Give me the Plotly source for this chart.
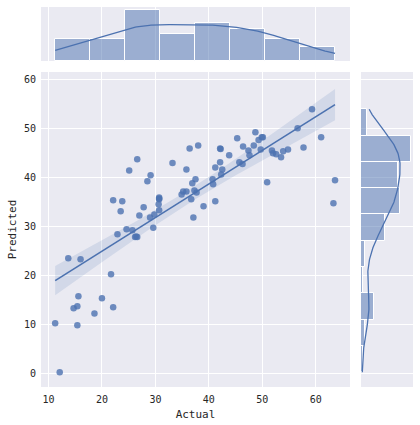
import numpy as np
import plotly.graph_objects as go

actual = [12.1, 11.25, 15.4, 14.7, 15.4, 15.6, 18.6, 20.0, 22.1, 21.7, 13.7, 16.0,
          22.9, 24.6, 25.7, 26.2, 26.6, 29.6, 27.0, 27.8, 23.5, 22.1, 23.8, 29.0,
          29.8, 30.6, 30.7, 30.7, 30.7, 26.6, 25.1, 29.1, 28.5, 33.2, 36.4, 38.0,
          35.8, 37.5, 36.9, 34.9, 35.2, 35.8, 37.3, 37.7, 36.7, 39.0, 37.1, 41.2,
          40.7, 40.8, 41.2, 42.1, 42.1, 42.5, 42.3, 43.8, 45.3, 46.4, 45.7, 46.3,
          47.4, 47.6, 48.4, 48.7, 49.3, 49.9, 50.1, 49.7, 50.9, 51.8, 52.0, 52.6,
          53.5, 53.9, 54.8, 56.6, 57.7, 59.3, 61.0, 63.6, 63.3, 30.7, 26.4, 42.2]
predicted = [0.2, 10.2, 9.8, 13.3, 13.7, 15.7, 12.2, 15.3, 13.5, 20.2, 23.5, 23.3,
             28.4, 29.4, 29.2, 27.8, 27.8, 29.7, 32.2, 33.9, 33.1, 35.3, 35.1, 31.8,
             32.4, 34.5, 33.3, 35.9, 35.5, 43.7, 41.4, 40.4, 39.2, 42.9, 45.9, 46.5,
             41.6, 39.6, 38.8, 36.5, 37.1, 37.1, 37.3, 36.9, 35.5, 34.1, 31.8, 35.1,
             39.6, 38.6, 42.0, 45.9, 43.1, 41.6, 40.6, 44.5, 48.0, 46.3, 43.1, 42.7,
             45.5, 44.5, 46.5, 49.2, 47.6, 48.2, 48.2, 45.7, 39.0, 45.5, 44.9, 44.7,
             44.1, 45.3, 45.7, 50.0, 46.1, 53.9, 48.2, 39.4, 34.7, 35.7, 27.9, 45.8]

x_bins = 8
y_bins = 10
x_ticks = [10, 20, 30, 40, 50, 60]
y_ticks = [0, 10, 20, 30, 40, 50, 60]

x = np.array(actual)
y = np.array(predicted)
n = len(x)
BLUE = "#4C72B0"
FONT = "DejaVu Sans Mono"

# regression with 95% CI
b1, b0 = np.polyfit(x, y, 1)
xg = np.linspace(x.min(), x.max(), 100)
yg = b0 + b1 * xg
resid = y - (b0 + b1 * x)
s = np.sqrt(np.sum(resid ** 2) / (n - 2))
se = s * np.sqrt(1 / n + (xg - x.mean()) ** 2 / np.sum((x - x.mean()) ** 2))
tval = 1.99
lo, hi = yg - tval * se, yg + tval * se


def kde(data, grid):
    bw = np.std(data, ddof=1) * len(data) ** (-1 / 5)
    d = (grid[:, None] - data[None, :]) / bw
    return np.exp(-0.5 * d ** 2).sum(axis=1) / (len(data) * bw * np.sqrt(2 * np.pi))


hx, ex = np.histogram(x, bins=x_bins, range=(x.min(), x.max()))
hy, ey = np.histogram(y, bins=y_bins, range=(y.min(), y.max()))
kx_grid = np.linspace(x.min(), x.max(), 200)
ky_grid = np.linspace(y.min(), y.max(), 200)
kx = kde(x, kx_grid) * n * (ex[1] - ex[0])
ky = kde(y, ky_grid) * n * (ey[1] - ey[0])

fig = go.Figure()
fig.add_trace(go.Scatter(x=np.concatenate([xg, xg[::-1]]), y=np.concatenate([hi, lo[::-1]]),
                         fill="toself", fillcolor="rgba(76,114,176,0.15)", line=dict(width=0),
                         hoverinfo="skip", xaxis="x", yaxis="y"))
fig.add_trace(go.Scatter(x=x, y=y, mode="markers",
                         marker=dict(color=BLUE, size=6.5, opacity=0.8, line=dict(width=0)),
                         xaxis="x", yaxis="y"))
fig.add_trace(go.Scatter(x=xg, y=yg, mode="lines", line=dict(color=BLUE, width=1.6),
                         xaxis="x", yaxis="y"))
# top marginal
fig.add_trace(go.Bar(x=(ex[:-1] + ex[1:]) / 2, y=hx, width=ex[1] - ex[0],
                     marker=dict(color="rgba(76,114,176,0.5)", line=dict(color="white", width=1)),
                     xaxis="x2", yaxis="y2"))
fig.add_trace(go.Scatter(x=kx_grid, y=kx, mode="lines", line=dict(color=BLUE, width=1.3),
                         xaxis="x2", yaxis="y2"))
# right marginal
fig.add_trace(go.Bar(y=(ey[:-1] + ey[1:]) / 2, x=hy, width=ey[1] - ey[0], orientation="h",
                     marker=dict(color="rgba(76,114,176,0.5)", line=dict(color="white", width=1)),
                     xaxis="x3", yaxis="y3"))
fig.add_trace(go.Scatter(x=ky, y=ky_grid, mode="lines", line=dict(color=BLUE, width=1.3),
                         xaxis="x3", yaxis="y3"))

W, H = 420, 425
main_x = [41 / W, 350 / W]
main_y = [(H - 387) / H, (H - 72) / H]
top_y = [(H - 61) / H, (H - 7) / H]
right_x = [361 / W, 413 / W]
xr = [8.6, 66.4]
yr = [-2.8, 61.5]

grid = dict(showgrid=True, gridcolor="white", gridwidth=1, zeroline=False, showline=False)
tickfont = dict(family=FONT, size=10, color="#262626")

fig.update_layout(
    width=W, height=H, margin=dict(l=0, r=0, t=0, b=0, autoexpand=False),
    paper_bgcolor="white", plot_bgcolor="#EAEAF2", showlegend=False, bargap=0,
    font=dict(family=FONT, color="#262626"),
    xaxis=dict(domain=main_x, range=xr, tickvals=x_ticks, anchor="y", tickfont=tickfont,
               ticks="outside", ticklen=3, tickcolor="rgba(0,0,0,0)",
               title=dict(text="Actual", font=dict(family=FONT, size=11, color="#262626"), standoff=6), **grid),
    yaxis=dict(domain=main_y, range=yr, tickvals=y_ticks, anchor="x", tickfont=tickfont,
               ticks="outside", ticklen=2, tickcolor="rgba(0,0,0,0)",
               title=dict(text="Predicted", font=dict(family=FONT, size=11, color="#262626"), standoff=5), **grid),
    xaxis2=dict(domain=main_x, range=xr, tickvals=x_ticks, anchor="y2", showticklabels=False, **grid),
    yaxis2=dict(domain=top_y, range=[0, hx.max() * 1.05], anchor="x2", showticklabels=False,
                showgrid=False, zeroline=False),
    xaxis3=dict(domain=right_x, range=[0, hy.max() * 1.05], anchor="y3", showticklabels=False,
                showgrid=False, zeroline=False),
    yaxis3=dict(domain=main_y, range=yr, tickvals=y_ticks, anchor="x3", showticklabels=False, **grid),
)

fig.write_html("out.html", config={"displayModeBar": False})
with open("out.html", encoding="utf-8") as f:
    page = f.read()
page = page.replace("<head>", "<head><style>html,body{margin:0;padding:0;overflow:hidden;}</style>", 1)
with open("out.html", "w", encoding="utf-8") as f:
    f.write(page)
